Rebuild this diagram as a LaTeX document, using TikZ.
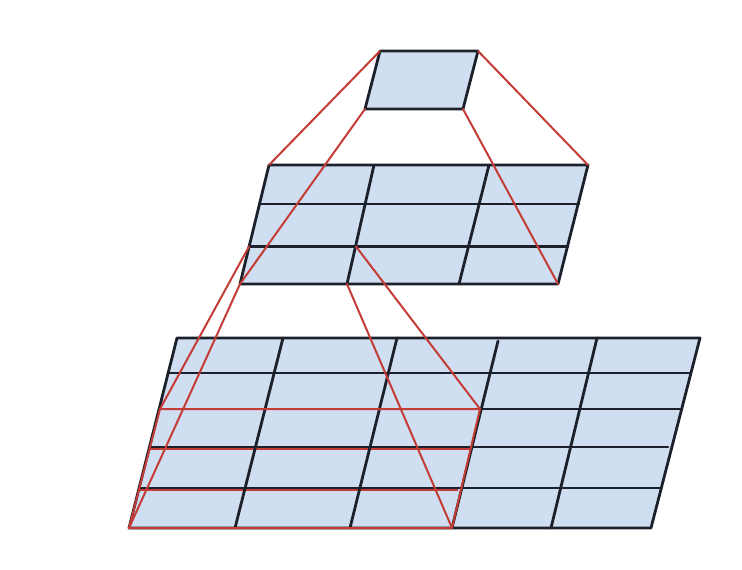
\documentclass[tikz,border=0pt]{standalone}
\usetikzlibrary{calc}
\definecolor{cellfill}{RGB}{207,222,240}
\definecolor{gridline}{RGB}{28,32,42}
\definecolor{redline}{RGB}{196,60,54}
\begin{document}
\begin{tikzpicture}[x=1pt,y=-1pt,
  gridstroke/.style={draw=gridline,line width=2.8pt,line cap=round,line join=round},
  redstroke/.style={draw=redline,line width=2pt,line cap=round,line join=round},
  cellarea/.style={fill=cellfill}]
\useasboundingbox (0,0) rectangle (742,570);
% ---------- top cell ----------
\coordinate (T1) at (380,51);
\coordinate (T2) at (478,51);
\coordinate (T3) at (463,109);
\coordinate (T4) at (365,109);
% ---------- middle grid ----------
\coordinate (M1) at (269,165);
\coordinate (M2) at (588,165);
\coordinate (M3) at (558,284);
\coordinate (M4) at (240,284);
\coordinate (ML1) at (260,204);   \coordinate (MR1) at (579,204);
\coordinate (ML2) at (249,246.5); \coordinate (MR2) at (568,246.5);
\coordinate (MC1t) at (374,165);  \coordinate (MC1b) at (347,284);
\coordinate (MC2t) at (489,165);  \coordinate (MC2b) at (459,284);
\coordinate (MX) at (356,246.5);
% ---------- bottom grid ----------
\coordinate (B1) at (177,338);
\coordinate (B2) at (700,338);
\coordinate (B3) at (651,528);
\coordinate (B4) at (129,528);
\coordinate (BL1) at (168,373);   \coordinate (BR1) at (690,373);
\coordinate (BL2) at (160,409);   \coordinate (BR2) at (681,409);
\coordinate (BL3) at (149.5,447); \coordinate (BR3) at (668,447);
\coordinate (BL4) at (139,488);   \coordinate (BR4) at (661,488);
\coordinate (BC1t) at (283,338);  \coordinate (BC1b) at (235,528);
\coordinate (BC2t) at (397,338);  \coordinate (BC2b) at (350,528);
\coordinate (BC3t) at (498,341);  \coordinate (BC3b) at (452,528);
\coordinate (BC4t) at (597,338);  \coordinate (BC4b) at (551,528);
\coordinate (RB) at (480,409);
% ---------- fills ----------
\fill[cellarea] (T1) -- (T2) -- (T3) -- (T4) -- cycle;
\fill[cellarea] (M1) -- (M2) -- (M3) -- (M4) -- cycle;
\fill[cellarea] (B1) -- (B2) -- (B3) -- (B4) -- cycle;
% ---------- red fringes under the inner rows of the red window ----------
\draw[redstroke] ($(BL3)+(0,2)$) -- ($(BL3)!0.62!(BR3)+(0,2)$);
\draw[redstroke] ($(BL4)+(0,2)$) -- ($(BL4)!0.61!(BR4)+(0,2)$);
% ---------- black grid lines ----------
\draw[gridstroke] (T1) -- (T2) -- (T3) -- (T4) -- cycle;
\draw[gridstroke] (M1) -- (M2) -- (M3) -- (M4) -- cycle;
\draw[gridstroke] (ML1) -- (MR1);
\draw[gridstroke] (ML2) -- (MR2);
\draw[gridstroke] (MC1t) -- (MC1b);
\draw[gridstroke] (MC2t) -- (MC2b);
\draw[gridstroke] (B1) -- (B2) -- (B3) -- (B4) -- cycle;
\draw[gridstroke] (BL1) -- (BR1);
\draw[gridstroke] (BL2) -- (BR2);
\draw[gridstroke] (BL3) -- (BR3);
\draw[gridstroke] (BL4) -- (BR4);
\draw[gridstroke] (BC1t) -- (BC1b);
\draw[gridstroke] (BC2t) -- (BC2b);
\draw[gridstroke] (BC3t) -- (BC3b);
\draw[gridstroke] (BC4t) -- (BC4b);
% ---------- red receptive-field connectors ----------
\draw[redstroke] (T1) -- (M1);
\draw[redstroke] (T2) -- (M2);
\draw[redstroke] (T4) -- (M4);
\draw[redstroke] (T3) -- (M3);
\draw[redstroke] (ML2) -- (BL2);
\draw[redstroke] (M4) -- (B4);
\draw[redstroke] (MX) -- (RB);
\draw[redstroke] (MC1b) -- (BC3b);
% ---------- red window on the bottom grid ----------
\draw[redstroke] (BL2) -- (RB) -- (BC3b) -- (B4) -- cycle;
\end{tikzpicture}
\end{document}
